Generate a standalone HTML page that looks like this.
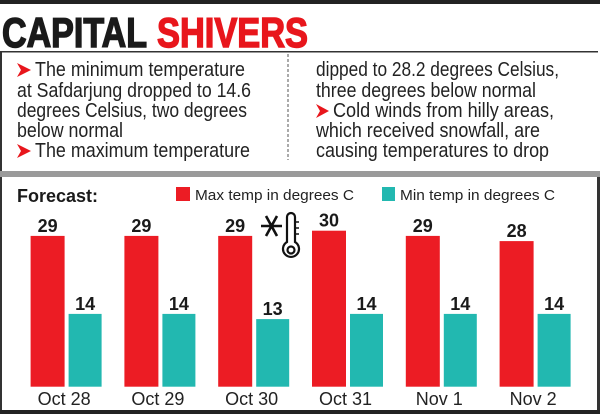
<!DOCTYPE html>
<html><head><meta charset="utf-8"><style>
html,body{margin:0;padding:0;background:#fff}
svg{display:block}
text{font-family:"Liberation Sans",sans-serif}
</style></head><body>
<svg width="600" height="414" viewBox="0 0 600 414">
<rect x="0" y="0" width="600" height="4" fill="#222"/>
<text x="2" y="47" font-size="42" font-weight="bold" fill="#1a1a1a" stroke="#1a1a1a" stroke-width="1.5" textLength="145" lengthAdjust="spacingAndGlyphs">CAPITAL</text>
<text x="157" y="47" font-size="42" font-weight="bold" fill="#e8161c" stroke="#e8161c" stroke-width="1.5" textLength="151" lengthAdjust="spacingAndGlyphs">SHIVERS</text>
<rect x="0" y="51" width="598" height="1.5" fill="#333"/>
<rect x="0" y="52" width="2" height="362" fill="#333"/>
<line x1="288" y1="54" x2="288" y2="160" stroke="#555" stroke-width="1" stroke-dasharray="3,2"/>
<g fill="#222" font-size="20">
<polygon points="17,63 31,70 17,77 21,70" fill="#e8161c"/>
<text x="35" y="76" textLength="210" lengthAdjust="spacingAndGlyphs">The minimum temperature</text>
<text x="17" y="97" textLength="234" lengthAdjust="spacingAndGlyphs">at Safdarjung dropped to 14.6</text>
<text x="17" y="117" textLength="230" lengthAdjust="spacingAndGlyphs">degrees Celsius, two degrees</text>
<text x="17" y="137" textLength="106" lengthAdjust="spacingAndGlyphs">below normal</text>
<polygon points="17,144 31,151 17,158 21,151" fill="#e8161c"/>
<text x="35" y="157" textLength="215" lengthAdjust="spacingAndGlyphs">The maximum temperature</text>
<text x="316" y="76" textLength="243" lengthAdjust="spacingAndGlyphs">dipped to 28.2 degrees Celsius,</text>
<text x="316" y="97" textLength="220" lengthAdjust="spacingAndGlyphs">three degrees below normal</text>
<polygon points="316,104 329,111 316,118 320,111" fill="#e8161c"/>
<text x="333" y="117" textLength="221" lengthAdjust="spacingAndGlyphs">Cold winds from hilly areas,</text>
<text x="316" y="137" textLength="224" lengthAdjust="spacingAndGlyphs">which received snowfall, are</text>
<text x="316" y="157" textLength="233" lengthAdjust="spacingAndGlyphs">causing temperatures to drop</text>
</g>
<rect x="0" y="171" width="600" height="6" fill="#9a9a9a"/>
<rect x="597" y="177" width="3" height="237" fill="#333"/>
<rect x="0" y="410" width="600" height="4" fill="#222"/>
<text x="17" y="202" font-size="18" font-weight="bold" fill="#1a1a1a" textLength="81" lengthAdjust="spacingAndGlyphs">Forecast:</text>
<rect x="176" y="187" width="14" height="14" fill="#ec1c24"/>
<text x="195" y="200" font-size="15" fill="#222" textLength="159" lengthAdjust="spacingAndGlyphs">Max temp in degrees C</text>
<rect x="382" y="187" width="13" height="14" fill="#22b8b0"/>
<text x="400" y="200" font-size="15" fill="#222" textLength="155" lengthAdjust="spacingAndGlyphs">Min temp in degrees C</text>
<g stroke="#111" fill="none" stroke-width="2.2">
<g stroke-width="2.6">
<line x1="261" y1="226" x2="282" y2="226"/><line x1="266" y1="216" x2="277" y2="236"/><line x1="277" y1="216" x2="266" y2="236"/>
</g>
<path d="M287,242 V217 a4,4 0 0 1 8,0 V242 a8,8 0 1 1 -8,0 Z" fill="#fff"/>
<circle cx="291" cy="250" r="3.5"/>
<line x1="295" y1="222" x2="299" y2="222" stroke-width="1.5"/><line x1="295" y1="228" x2="299" y2="228" stroke-width="1.5"/><line x1="295" y1="234" x2="299" y2="234" stroke-width="1.5"/>
</g>
<g id="chart"></g>
</svg>
<script>
const categories = ["Oct 28","Oct 29","Oct 30","Oct 31","Nov 1","Nov 2"];
const maxTemps = [29,29,29,30,29,28];
const minTemps = [14,14,13,14,14,14];
const NS = "http://www.w3.org/2000/svg";
const g = document.getElementById("chart");
const baseY = 386.7, unit = 5.2, x0 = 30.6, step = 93.8, bw = 34, bw2 = 33, gap = 4;
const yScale = v => baseY - v*unit;
const xScale = i => x0 + i*step;
function mk(tag, attrs){const e=document.createElementNS(NS,tag);for(const k in attrs)e.setAttribute(k,attrs[k]);g.appendChild(e);return e;}
categories.forEach((c,i)=>{
  const xr = xScale(i), xt = xr + bw + gap;
  const r = mk("rect",{x:xr,y:yScale(maxTemps[i]),width:bw,height:baseY-yScale(maxTemps[i]),fill:"#ec1c24"});
  
  
  const t = mk("rect",{x:xt,y:yScale(minTemps[i]),width:bw2,height:baseY-yScale(minTemps[i]),fill:"#22b8b0"});
  
  
  const lv = mk("text",{x:xr+bw/2,y:yScale(maxTemps[i])-4,"font-size":"18","font-weight":"bold","text-anchor":"middle",fill:"#1a1a1a"});
  lv.textContent = maxTemps[i];
  
  
  const lm = mk("text",{x:xt+bw2/2,y:yScale(minTemps[i])-4,"font-size":"18","font-weight":"bold","text-anchor":"middle",fill:"#1a1a1a"});
  lm.textContent = minTemps[i];
  
  
  const lc = mk("text",{x:xr+(bw+gap+bw2)/2-2,y:405,"font-size":"18","text-anchor":"middle",fill:"#222"});
  lc.textContent = c;
  
  
});
</script>
</body></html>
